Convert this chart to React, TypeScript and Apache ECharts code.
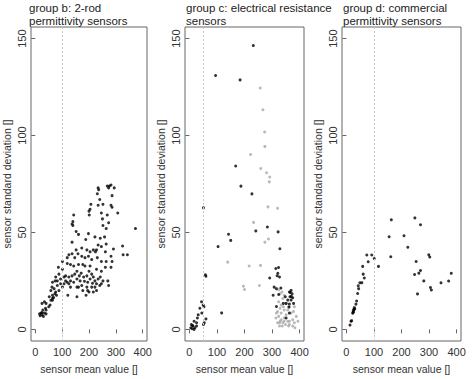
import React, { useEffect, useRef } from "react";
import * as echarts from "echarts";

const xTicks = [0, 100, 200, 300, 400];
const yTicks = [0, 50, 100, 150];

const panelTitles = [
  "group b: 2-rod\npermittivity sensors",
  "group c: electrical resistance\nsensors",
  "group d: commercial\npermittivity sensors",
];
const refLines = [100, 50, 100];

const groupB: number[][] = [
  [234,73],[236,72],[231,70],[240,67],[234,64],[246,60],[252,64.5],[268,74],[273,73],[282,74.5],[276,74],[294,73],[286,69],[282,64],[286,63],[307,60],[268,59],[273,55],[250,57],[252,53.6],[264,52],[207,64.5],[204,62],[201,59],[200,61],[143,59],[140,55.6],[137,54.4],[140,53.6],[161,49],[198,49.4],[188,46.4],[137,45],[222,47.7],[242,47],[258,47.7],[264,44],[228,41],[224,40],[216,41],[234,43.5],[246,42.7],[204,40],[192,41],[173,42],[152,41],[159,39],[137,39],[125,38.5],[119,37],[147,37],[173,37.7],[185,37],[198,37.7],[210,36],[231,37],[246,35],[261,40],[264,35],[282,37.7],[291,41.5],[325,43],[327,38.5],[343,38.5],[286,35],[282,32],[261,32],[246,30],[228,31],[204,32.7],[185,32.7],[177,33.5],[161,33.5],[143,32.7],[131,33.5],[119,34],[101,35],[101,31],[86,32],[88,28.5],[76,27],[74,25],[64,24.3],[62,21.8],[58,20],[70,21],[82,22.6],[94,23.5],[107,27],[113,25],[125,27],[137,27.6],[147,28.5],[155,30],[164,27.6],[171,29],[180,27],[192,27.6],[200,30],[210,28.5],[216,27],[222,25],[234,26],[242,27],[252,25],[228,23.5],[213,23.8],[246,23.5],[270,25],[273,22.6],[204,26],[195,24.3],[183,24.8],[167,25],[155,26],[143,24.3],[131,25],[125,23.5],[119,24.3],[155,21.8],[121,17.6],[155,16.8],[189,17.6],[52,16.8],[58,15],[40,13.4],[34,14.2],[25,13.4],[38,10.9],[40,10],[28,10],[22,8.4],[16,8],[18,7],[25,7.5],[30,6.7],[34,8.4],[40,8],[25,8.7],[50,11.7],[55,12.6],[64,15],[64,16],[68,16.4],[79,17.6],[76,19.3],[88,20],[101,21.8],[107,23.5],[113,27.6],[73,18.4],[64,17.6],[82,25],[94,26],[222,21.8],[228,20],[240,22.6],[210,21.8],[192,21.8],[173,22.6],[177,20],[195,20],[200,19.3],[216,19.3],[161,21.8],[131,21.8],[373,52],[152,50.5],
];

const groupCBlack: number[][] = [
  [232,146.4],[95,131],[184,128.7],[168,84.3],[187,73.9],[227,69.9],[51,62.7],[241,50.8],[283,52.8],[322,50.3],[142,49.1],[150,45.9],[104,42.7],[58,28.2],[60,27.4],[117,8.5],
  [328.5,41.6],[323.7,31.9],[313.7,31.4],[321,28.9],[318.5,27.7],[291.5,26.5],[327,27],[307.5,21.8],[316,21],[332,21.3],[304,17.6],[324,18],[348,16.8],[363,19.3],[369,20.1],[373,18.4],[365,16.8],[357,15.1],[369,15.1],[363,13.1],[375,16.3],[351,13.4],[361,11.5],[316,11.8],[363,8.4],[351,5.9],[341,13.4],[378,13.4],[370,17],[366,19],
  [44,14.2],[50,12.6],[53,11.7],[38,10.9],[32,7.5],[29,5.9],[17,4.2],[26,3.4],[7,2.5],[13,1.7],[20,0.8],[10,0.3],[17,0],[5,0.8],[26,1.7],[11,2],[60,5.4],[54,3.4],[51,2.5],[45,8.4],
];

const groupCGray: number[][] = [
  [257,124.5],[267,113.3],[273,101.8],[274,94.4],[222,90.2],[259,83],[280,80.8],[291.5,78.6],[290,76.1],[285,63.2],[320,62.5],[233,55.2],[274,45],[287,46.6],[139,34.7],[217,32.7],[258,33],[196,22.3],[200,20.6],[254,22.6],
  [324,20.4],[336,19.3],[344,17.6],[329,18.4],[339,15.9],[324,14.2],[333,12.6],[329,10.9],[341,11.7],[320,9.2],[333,8.4],[344,10],[351,7.5],[324,6.7],[333,5],[339,3.4],[329,4.2],[344,5.9],[357,4.2],[363,2.5],[375,5],[381,3.4],[388,6.7],[394,4.2],[375,1.7],[383,0.8],[360,1.7],[349,2.5],[337,1.7],[327,1.7],[320,3.4],[314,5.9],[316,8.4],[357,10],[363,11.7],[369,8.4],[378,9.2],[327,3.4],[344,4.2],[351,13.4],[381,11.7],[363,4.2],
];

const groupD: number[][] = [
  [163,56.5],[248.6,57.5],[269,54],[155,47.8],[209,48.3],[223,42.4],[74,38.4],[92,38.4],[101,36.6],[79,34.9],[161,37.5],[116.4,32.5],[59,32.5],[61,28.5],[65,26.5],[49,24],[56,24.1],[43,22.5],[44.3,21],[40.7,18.5],[37,14.6],[34.7,13],[28.7,11.2],[27.5,10.3],[25,9.7],[30,10.6],[22.7,8.3],[19,4.5],[16.7,4.2],[13,2.2],[26,9],[24,8.8],[28,10.4],
  [299,38.5],[302.6,37.3],[253,35],[269,30.4],[247.4,28.3],[263,29],[281,25],[380.6,28.9],[343.5,24],[371,24.9],[305,21.6],[308.5,20.3],[258,18.3],
];

const FONT = "'Liberation Sans', Arial, Helvetica, sans-serif";
const gridLefts = [28, 185, 342];
const GRID_W = 119;
const GRID_TOP = 27;
const GRID_H = 321;

export default function App() {
  const ref = useRef<HTMLDivElement>(null);
  useEffect(() => {
    if (!ref.current) return;
    const chart = echarts.init(ref.current, undefined, { renderer: "svg" });
    const grids = gridLefts.map((l) => ({
      left: l,
      top: GRID_TOP,
      width: GRID_W,
      height: GRID_H,
      show: true,
      borderColor: "#666",
      borderWidth: 1,
      backgroundColor: "transparent",
    }));
    const xAxes = gridLefts.map((_, i) => ({
      type: "value",
      gridIndex: i,
      min: -16,
      max: 416,
      name: "sensor mean value []",
      nameLocation: "middle",
      nameGap: 22,
      nameTextStyle: { fontFamily: FONT, fontSize: 10.5, color: "#333" },
      axisLine: { show: false },
      splitLine: { show: false },
      axisTick: { show: true, length: 4, inside: false, lineStyle: { color: "#666" }, customValues: xTicks },
      axisLabel: { fontFamily: FONT, fontSize: 11, color: "#333", margin: 5, customValues: xTicks },
    }));
    const yAxes = gridLefts.map((_, i) => ({
      type: "value",
      gridIndex: i,
      min: -6,
      max: 156,
      name: "sensor standard deviation []",
      nameLocation: "middle",
      nameGap: 19,
      nameTextStyle: { fontFamily: FONT, fontSize: 10.5, color: "#333" },
      axisLine: { show: false },
      splitLine: { show: false },
      axisTick: { show: true, length: 4, lineStyle: { color: "#666" }, customValues: yTicks },
      axisLabel: { fontFamily: FONT, fontSize: 11, color: "#333", rotate: 90, margin: 4, customValues: yTicks },
    }));
    const mk = (i: number) => ({
      silent: true,
      symbol: "none",
      label: { show: false },
      lineStyle: { type: [2, 2], color: "#c8c8c8", width: 1 },
      data: [{ xAxis: refLines[i] }],
    });
    const series: any[] = [
      { type: "scatter", xAxisIndex: 0, yAxisIndex: 0, data: groupB, symbol: "circle", symbolSize: 3, itemStyle: { color: "#000" }, markLine: mk(0) },
      { type: "scatter", xAxisIndex: 1, yAxisIndex: 1, data: groupCGray, symbol: "circle", symbolSize: 3, itemStyle: { color: "#a8a8a8" }, markLine: mk(1) },
      { type: "scatter", xAxisIndex: 1, yAxisIndex: 1, data: groupCBlack, symbol: "circle", symbolSize: 3, itemStyle: { color: "#000" } },
      { type: "scatter", xAxisIndex: 2, yAxisIndex: 2, data: groupD, symbol: "circle", symbolSize: 3, itemStyle: { color: "#000" }, markLine: mk(2) },
    ];
    chart.setOption({
      animation: false,
      backgroundColor: "#fff",
      title: panelTitles.map((t, i) => ({
        text: t,
        left: gridLefts[i] + 1,
        top: 1,
        padding: 0,
        textStyle: { fontFamily: FONT, fontSize: 11.5, fontWeight: "normal", color: "#222", lineHeight: 13 },
      })),
      grid: grids,
      xAxis: xAxes,
      yAxis: yAxes,
      series,
    });
    return () => chart.dispose();
  }, []);
  return <div ref={ref} style={{ position: "absolute", left: 0, top: 0, width: 474, height: 379 }} />;
}
